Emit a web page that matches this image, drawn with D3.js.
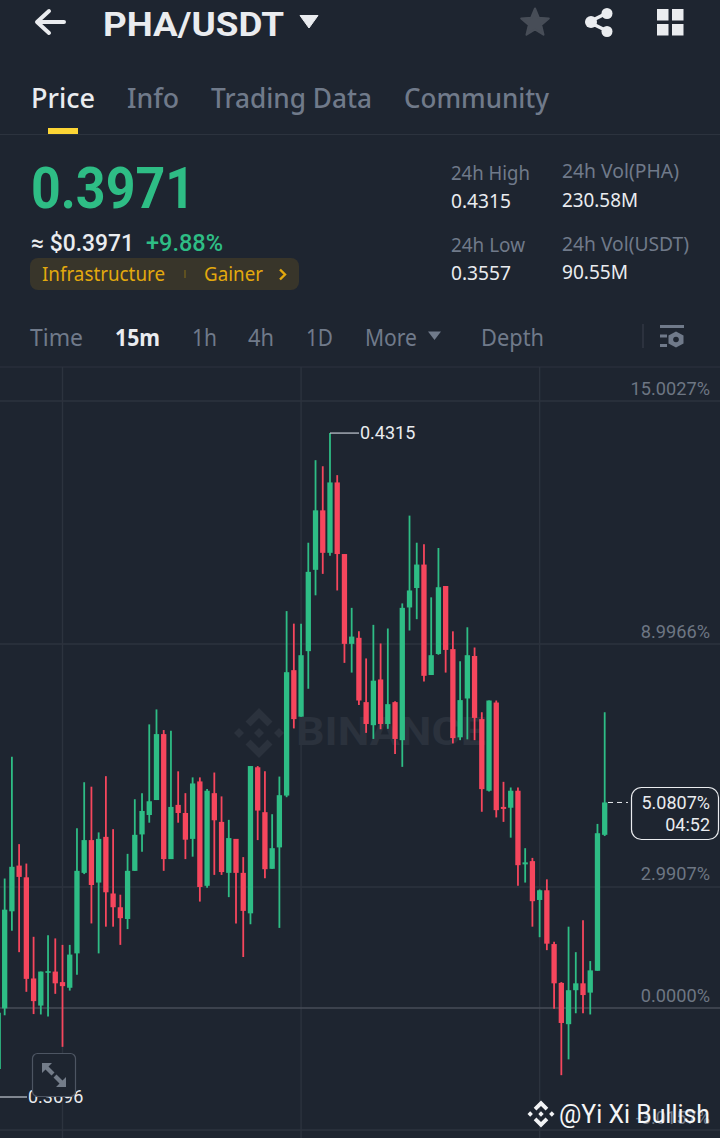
<!DOCTYPE html>
<html>
<head>
<meta charset="utf-8">
<script src="https://d3js.org/d3.v7.min.js"></script>
<style>
html,body{margin:0;padding:0;background:#1e2530;overflow:hidden}
svg{display:block}
text{font-family:"Noto Sans",Roboto,sans-serif}
</style>
</head>
<body>
<svg id="c" width="720" height="1138"></svg>
<script>
// Percent change from the 0.0000% line.
const high=[-0.12,3.20,6.21,4.05,3.57,1.76,0.90,1.80,1.72,1.56,1.56,
4.44,5.58,5.47,4.34,5.73,4.42,2.80,3.81,5.16,5.31,
7.01,7.38,6.87,6.85,5.85,5.31,5.70,5.70,5.41,5.82,
5.23,4.65,4.18,3.73,5.98,5.98,5.85,4.79,5.72,9.81,
9.50,9.50,11.50,13.54,13.39,14.21,13.17,11.22,9.89,9.31,
8.64,9.47,9.01,9.38,7.58,10.00,12.17,11.50,11.46,10.15,
11.37,10.43,9.31,8.57,9.41,8.91,7.31,7.60,7.60,5.59,
5.45,5.45,3.95,3.71,2.93,3.18,1.64,0.64,2.01,1.38,
2.17,1.16,4.55,7.31];
const low=[-1.51,
-0.18,1.91,1.38,0.40,-0.15,-0.16,-0.21,0.35,-0.96,0.43,
0.82,3.31,2.09,1.35,2.01,2.01,1.56,1.95,3.39,3.86,
4.58,5.14,3.39,3.68,4.58,3.68,3.74,2.63,2.97,3.29,
3.29,2.74,2.09,1.26,2.07,4.15,3.21,3.44,1.98,5.21,
6.91,7.20,7.89,10.20,10.73,11.18,10.32,8.53,8.29,7.49,
6.80,6.65,6.89,6.90,6.28,5.96,9.33,9.61,8.07,8.23,
8.73,8.29,6.54,6.62,6.64,6.62,4.85,5.35,4.71,4.60,
4.21,3.02,3.10,2.01,1.75,1.43,-0.02,-1.66,-1.27,-0.13,
-0.13,-0.16,0.92,4.25];
const open=[-0.12,
-0.01,2.39,3.52,3.23,0.73,0.06,0.87,0.90,0.64,0.50,
1.35,3.34,4.15,3.10,4.23,2.83,2.49,2.20,3.39,4.29,
4.77,5.14,6.77,3.68,5.02,4.82,4.18,5.60,3.02,5.31,
4.60,3.34,4.18,3.34,2.34,5.95,4.84,3.44,3.97,5.25,
8.35,7.20,8.82,10.83,12.30,11.25,12.99,11.22,9.00,9.15,
7.56,6.99,8.12,7.02,7.56,6.62,9.90,10.38,10.96,8.23,
8.75,10.43,8.87,6.69,7.65,8.70,7.14,5.37,7.55,4.97,
4.95,5.37,3.55,3.63,2.67,2.91,1.58,0.62,-0.40,0.44,
0.61,0.38,0.92,4.28];
const close=[-0.12,
2.43,3.49,3.24,0.72,0.17,0.90,0.91,0.61,0.54,1.32,
3.39,4.15,3.04,4.18,2.86,2.49,2.22,3.39,4.28,4.87,
5.11,6.77,3.68,4.97,4.82,4.16,5.55,2.99,5.37,4.64,
3.36,4.20,3.34,2.40,5.98,4.88,3.43,3.95,5.26,8.30,
7.14,8.72,10.78,12.30,11.25,12.99,11.22,9.00,9.18,7.60,
7.02,8.09,7.02,7.51,6.65,9.89,10.32,10.96,8.21,8.72,
10.40,8.85,6.67,7.61,8.72,7.17,5.41,7.60,4.89,4.92,
5.37,3.53,3.60,2.64,2.91,1.59,0.61,-0.37,0.44,0.61,
0.32,0.93,4.32,5.08];
const percentTicks=[15.0027,8.9966,2.9907,0,-3.0157];
const percentLabels=["15.0027%","8.9966%","2.9907%","0.0000%","-3.0157%"];
const timeTickSlots=[8,41,74];
const firstSlot=-0.65;
const highLabel="0.4315", lowLabel="0.3696", lowLabelValue=-2.2;
const lastLabel="5.0807%", countdown="04:52";

const GREEN="#2ebd85",RED="#f6465d",GRID="#2c333e",ZERO="#474d57",
      WHITE="#eaecef",GRAY="#707a8a",BG="#1e2530",GOLD="#e3a90e";

const svg=d3.select("#c");
svg.append("rect").attr("width",720).attr("height",1138).attr("fill",BG);

const x=d3.scaleLinear().domain([0,83]).range([4.67,604.7]);
const y=d3.scaleLinear().domain([0,15.0027]).range([1008,401]);

function label(str,px,py,size,weight,fill,width,anchor){
  const t=svg.append("text").attr("x",px).attr("y",py).attr("font-size",size)
    .attr("font-weight",weight).attr("fill",fill).text(str);
  if(width){t.attr("textLength",width).attr("lengthAdjust","spacingAndGlyphs");}
  if(anchor)t.attr("text-anchor",anchor);
  return t;
}
function logo(g,cx,cy,R,fill){
  const P=pts=>"M"+pts.map(p=>[cx+p[0]*R,cy+p[1]*R].join(",")).join("L")+"Z";
  const top=[[0,-1],[0.54,-0.46],[0.34,-0.26],[0,-0.6],[-0.34,-0.26],[-0.54,-0.46]];
  const dia=(a,b,h)=>[[a,b-h],[a+h,b],[a,b+h],[a-h,b]];
  [top,top.map(p=>[p[0],-p[1]]),dia(0,0,0.2),dia(-0.8,0,0.2),dia(0.8,0,0.2)]
    .forEach(p=>g.append("path").attr("d",P(p)).attr("fill",fill));
}

/* ---------- header ---------- */
svg.append("path").attr("d","M64 22H38M49 11L37 22L49 33").attr("fill","none")
   .attr("stroke",WHITE).attr("stroke-width",4).attr("stroke-linecap","round").attr("stroke-linejoin","round");
label("PHA/USDT",103,36,34,700,WHITE,181).style("font-family","Roboto");
svg.append("path").attr("d","M300 15.5H318L309 28Z").attr("fill",WHITE).attr("stroke",WHITE).attr("stroke-width",1).attr("stroke-linejoin","round");
svg.append("path").attr("fill","#474d57").attr("stroke","#474d57").attr("stroke-width",2).attr("stroke-linejoin","round")
   .attr("d",d3.line()(d3.range(10).map(i=>{const r=i%2?6.5:14.5,a=-Math.PI/2+i*Math.PI/5;return[535+r*Math.cos(a),23+r*Math.sin(a)];}))+"Z");
svg.append("path").attr("d","M609 12L589 22L609 32").attr("fill","none").attr("stroke",WHITE).attr("stroke-width",3.5);
[[607,13.5,5.5],[591,22,6],[607,31.5,5.5]].forEach(c=>svg.append("circle").attr("cx",c[0]).attr("cy",c[1]).attr("r",c[2]).attr("fill",WHITE));
[[657,9],[672,9],[657,24],[672,24]].forEach(p=>svg.append("rect").attr("x",p[0]).attr("y",p[1]).attr("width",11.5).attr("height",11.5).attr("fill",WHITE));

label("Price",31,108,27,500,WHITE,64);
label("Info",127,108,27,500,GRAY,52);
label("Trading Data",211,108,27,500,GRAY,161);
label("Community",404,108,27,500,GRAY,145);
svg.append("rect").attr("x",48).attr("y",128).attr("width",30).attr("height",6).attr("fill","#fcd535");
svg.append("line").attr("x1",0).attr("x2",720).attr("y1",134.5).attr("y2",134.5).attr("stroke",GRID).attr("stroke-width",1);

label("0.3971",31,208,57,700,GREEN,164).style("font-family","Roboto");
label("≈ $0.3971",31,251,23,500,WHITE,103).style("font-family","Roboto");
label("+9.88%",146,251,23,500,GREEN,77).style("font-family","Roboto");
svg.append("rect").attr("x",30).attr("y",258).attr("width",269).attr("height",32).attr("rx",8).attr("fill","#38352a");
label("Infrastructure",42,281,20,400,GOLD,123);
svg.append("line").attr("x1",185).attr("x2",185).attr("y1",270).attr("y2",278).attr("stroke","#6b5a1e").attr("stroke-width",1.5);
label("Gainer",204,281,20,400,GOLD,59);
svg.append("path").attr("d","M280 269.5L285 274.5L280 279.5").attr("fill","none").attr("stroke",GOLD).attr("stroke-width",2.4);

label("24h High",451,180,20,400,GRAY,79);
label("0.4315",451,208,20,400,WHITE,60);
label("24h Vol(PHA)",562,178,20,400,GRAY,117);
label("230.58M",562,207,20,400,WHITE,76);
label("24h Low",451,252,20,400,GRAY,74);
label("0.3557",451,280,20,400,WHITE,60);
label("24h Vol(USDT)",562,251,20,400,GRAY,127);
label("90.55M",562,279,20,400,WHITE,66);

label("Time",30,346,23,400,GRAY,53);
label("15m",115,346,23,700,WHITE,45);
label("1h",192,346,23,400,GRAY,25);
label("4h",248,346,23,400,GRAY,26);
label("1D",306,346,23,400,GRAY,27);
label("More",365,346,23,400,GRAY,52);
svg.append("path").attr("d","M428 331.5H441L434.5 340Z").attr("fill",GRAY);
label("Depth",481,346,23,400,GRAY,63);
svg.append("line").attr("x1",643).attr("x2",643).attr("y1",324).attr("y2",348).attr("stroke","#3a414d").attr("stroke-width",1);
svg.append("path").attr("d","M660 326.5H684M660 336H667M660 345.5H667").attr("stroke",GRAY).attr("stroke-width",3).attr("fill","none");
svg.append("path").attr("d","M676 331.5L683.5 335.5V343.5L676 347.5L668.5 343.5V335.5Z").attr("fill",GRAY);
svg.append("circle").attr("cx",676).attr("cy",339.5).attr("r",2.8).attr("fill",BG);
svg.append("line").attr("x1",0).attr("x2",720).attr("y1",367).attr("y2",367).attr("stroke",GRID).attr("stroke-width",1);

/* ---------- grid ---------- */
const grid=svg.append("g");
grid.selectAll("line.v").data(timeTickSlots).join("line").attr("class","v")
  .attr("x1",d=>x(d)).attr("x2",d=>x(d)).attr("y1",367).attr("y2",1138)
  .attr("stroke",GRID).attr("stroke-width",1.4);
grid.selectAll("line.h").data(percentTicks).join("line").attr("class","h")
  .attr("x1",0).attr("x2",720).attr("y1",d=>y(d)).attr("y2",d=>y(d))
  .attr("stroke",d=>d===0?ZERO:GRID).attr("stroke-width",d=>d===0?1.6:1.4);

/* ---------- watermark ---------- */
logo(svg.append("g"),259,733,25,"#2b323d");
label("BINANCE",296,745,38,700,"#2b323d",190).style("font-family","Roboto");

/* ---------- axis labels ---------- */
const axis=d3.axisRight(y).tickValues(percentTicks).tickSize(0)
  .tickFormat((d,i)=>percentLabels[i]);
const ag=svg.append("g").attr("transform","translate(710,0)").call(axis);
ag.select(".domain").remove();
ag.selectAll("text").attr("x",0).attr("dy",-7).attr("text-anchor","end")
  .attr("font-size",18.2).attr("fill","#6d7683").style("font-family","Roboto");

/* ---------- candles ---------- */
const candles=high.map((h,i)=>({slot:i===0?firstSlot:i-1,h,l:low[i],o:open[i],c:close[i]}));
const cg=svg.append("g");
cg.selectAll("line.w").data(candles).join("line").attr("class","w")
  .attr("x1",d=>x(d.slot)).attr("x2",d=>x(d.slot))
  .attr("y1",d=>y(d.h)).attr("y2",d=>y(d.l))
  .attr("stroke",d=>d.c>=d.o?GREEN:RED).attr("stroke-width",1.8);
cg.selectAll("rect.b").data(candles).join("rect").attr("class","b")
  .attr("x",d=>x(d.slot)-2.65).attr("width",5.3)
  .attr("y",d=>y(Math.max(d.o,d.c)))
  .attr("height",d=>Math.abs(y(d.o)-y(d.c)))
  .attr("fill",d=>d.c>=d.o?GREEN:RED);

/* ---------- high / low markers ---------- */
const maxIdx=d3.maxIndex(high);
svg.append("line").attr("x1",x(candles[maxIdx].slot)).attr("x2",359)
  .attr("y1",y(high[maxIdx])).attr("y2",y(high[maxIdx])).attr("stroke","#b7bdc6").attr("stroke-width",1.3);
label(highLabel,360,y(high[maxIdx])+6,18,400,WHITE).style("font-family","Roboto");
svg.append("line").attr("x1",0).attr("x2",27).attr("y1",y(lowLabelValue)).attr("y2",y(lowLabelValue))
  .attr("stroke","#b7bdc6").attr("stroke-width",1.3);
label(lowLabel,28,y(lowLabelValue)+5.5,18,400,WHITE).style("font-family","Roboto");

/* ---------- fullscreen button ---------- */
svg.append("rect").attr("x",32.5).attr("y",1053.5).attr("width",43).attr("height",43).attr("rx",5)
  .attr("fill",BG).attr("stroke","#4d5562").attr("stroke-width",1.2);
svg.append("path").attr("fill","#737c89").attr("d","M42 1063H52L48.5 1066.5L54.5 1072.5L51.5 1075.5L45.5 1069.5L42 1073Z");
svg.append("path").attr("fill","#737c89").attr("d","M66 1087H56L59.5 1083.5L53.5 1077.5L56.5 1074.5L62.5 1080.5L66 1077Z");

/* ---------- last price ---------- */
const lastY=y(close[close.length-1]);
svg.append("line").attr("x1",608).attr("x2",628).attr("y1",lastY).attr("y2",lastY)
  .attr("stroke",WHITE).attr("stroke-width",1).attr("stroke-dasharray","5 4");
svg.append("rect").attr("x",631.5).attr("y",787.5).attr("width",87).attr("height",52).attr("rx",10)
  .attr("fill",BG).attr("stroke",WHITE).attr("stroke-width",1.2);
label(lastLabel,710,808.5,18,400,WHITE,null,"end").style("font-family","Roboto");
label(countdown,710,831,18,400,WHITE,null,"end").style("font-family","Roboto");

/* ---------- attribution ---------- */
logo(svg.append("g"),541,1114,13.5,"#f2f3f5");
label("@Yi Xi Bullish",559,1123,25,400,"#f5f6f7",151).style("font-family","Roboto");
</script>
</body>
</html>
